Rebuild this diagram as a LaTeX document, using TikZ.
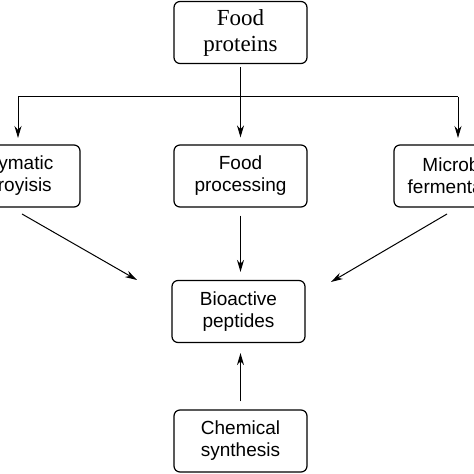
\documentclass[tikz,border=0pt]{standalone}
\usepackage{fontspec}
\setmainfont{Liberation Serif}
\setsansfont{Liberation Sans}
\usetikzlibrary{arrows.meta,positioning,calc}

\begin{document}
\begin{tikzpicture}[
    x=1pt, y=1pt,
    box/.style={rectangle, rounded corners=6pt, draw, line width=1.2pt, minimum width=133pt, minimum height=62pt, align=center, font=\sffamily\fontsize{19}{22}\selectfont},
    arrow/.style={-{Stealth[length=12pt,width=7pt]}, line width=1pt},
    link/.style={line width=1pt}
]
\useasboundingbox (0,0) rectangle (474,474);
\clip (0,0) rectangle (474,474);

\node[box, font=\rmfamily\fontsize{23}{26}\selectfont] (food) at (240.5,441.5) {Food\\proteins};
\node[box] (proc) at (240.5,298) {Food\\processing};
\node[box, minimum width=141pt] (enz) at (9.5,298) {Enzymatic\\hydroyisis};
\node[box] (micro) at (460.5,298) {Microbial\\fermentation};
\node[box] (bio) at (238.5,162.5) {Bioactive\\peptides};
\node[box] (chem) at (240.5,33) {Chemical\\synthesis};

% branching from the top box
\coordinate (split) at (240.5,377);
\coordinate (splitl) at (18,377);
\coordinate (splitr) at (458,377);
\draw[link, shorten <=3pt] (food.south) -- (split);
\draw[link] (splitl) -- (splitr);
\draw[arrow] (splitl) -- (18,336);
\draw[arrow] (splitr) -- (458,336);
\draw[arrow, shorten >=7pt] (split) -- (proc.north);

% into the peptides box
\coordinate (enzend) at (22,260);
\coordinate (enztip) at (137,194);
\coordinate (microend) at (447,260);
\coordinate (microtip) at (331,192);
\draw[arrow] (enzend) -- (enztip);
\draw[arrow] (microend) -- (microtip);
\draw[arrow, shorten <=8pt, shorten >=8pt] (proc.south) -- (proc.south |- bio.north);
\draw[arrow, shorten <=8pt, shorten >=10pt] (chem.north) -- (chem.north |- bio.south);
\end{tikzpicture}
\end{document}
